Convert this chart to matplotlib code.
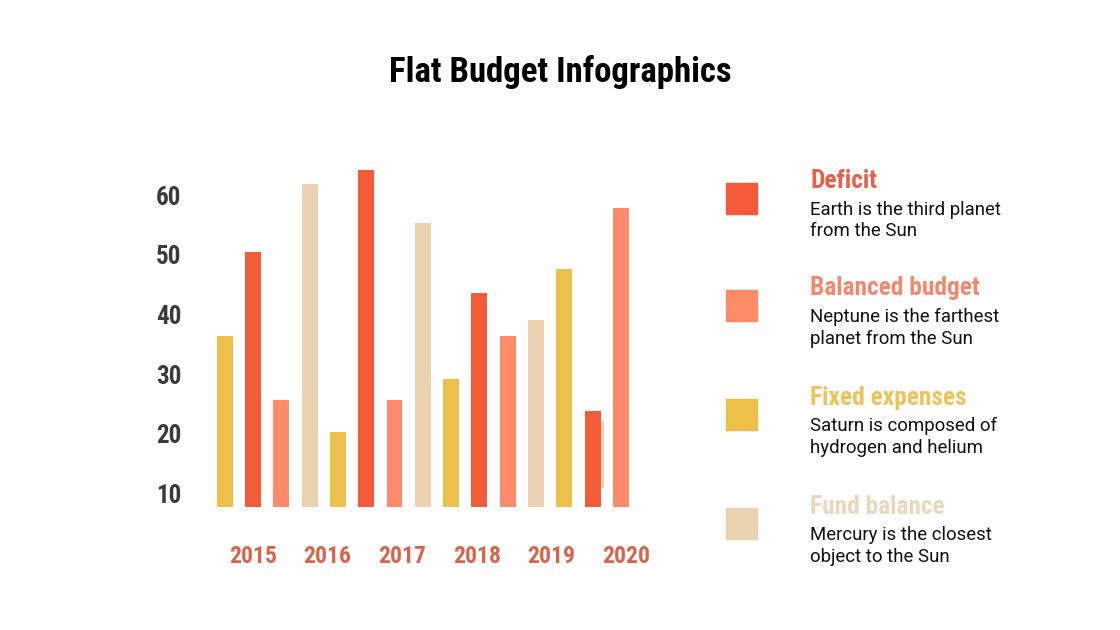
import matplotlib
matplotlib.use("Agg")
import matplotlib.pyplot as plt
from matplotlib import font_manager as fm
import numpy as np

# ---------------- data ----------------
years = ["2015", "2016", "2017", "2018", "2019", "2020"]
series_names = ["Fixed expenses", "Deficit", "Balanced budget", "Fund balance"]
fixed_expenses = [36.4, 20.3, 29.1, 47.6]
deficit = [50.5, 64.2, 43.6, 23.8]
balanced_budget = [25.6, 25.6, 36.4, 57.8]
fund_balance = [61.8, 55.4, 39.0]
fund_balance_hidden = 22.2      # small bar partly hidden behind last deficit bar
fund_balance_hidden_base = 10.9
yticks = [10, 20, 30, 40, 50, 60]

legend_titles = ["Deficit", "Balanced budget", "Fixed expenses", "Fund balance"]
legend_texts = ["Earth is the third planet\nfrom the Sun",
                "Neptune is the farthest\nplanet from the Sun",
                "Saturn is composed of\nhydrogen and helium",
                "Mercury is the closest\nobject to the Sun"]

# ---------------- style ----------------
C_DEF = "#F45B38"
C_BAL = "#FD8A69"
C_FIX = "#ECC04A"
C_FUND = "#EBD3B2"
HEAD_COL = {"Deficit": "#E9604A", "Balanced budget": "#F08A6E",
            "Fixed expenses": "#EDC45A", "Fund balance": "#EAD8BE"}
YEAR_COL = "#D5664C"

# find a bold condensed font file
cond_file = None
cands = []
for f in fm.fontManager.ttflist:
    fn = f.fname.lower()
    if ("condensed" in fn or "narrow" in fn) and ("bold" in fn) and "oblique" not in fn and "italic" not in fn:
        cands.append(f.fname)
pref = ["robotocondensed", "opensanscondensed", "notosans-condensedbold", "dejavusanscondensed-bold"]
for p in pref:
    for c in cands:
        if p in c.lower().replace("_", "").replace(" ", ""):
            cond_file = c
            break
    if cond_file:
        break
if cond_file is None and cands:
    cond_file = sorted(cands)[0]

def cprop(size):
    if cond_file:
        return fm.FontProperties(fname=cond_file, size=size)
    return fm.FontProperties(family="DejaVu Sans", weight="bold", size=size * 0.9)

names = {f.name for f in fm.fontManager.ttflist}
BODY = "Roboto" if "Roboto" in names else "DejaVu Sans"

fig = plt.figure(figsize=(11.2, 6.3), dpi=100)
fig.patch.set_facecolor("white")
ax = fig.add_axes([0.188, 0.195, 0.379, 0.552])

width = 0.565
nslots = 4
colors = [C_FIX, C_DEF, C_BAL, C_FUND]
all_series = [fixed_expenses, deficit, balanced_budget, fund_balance]
for s, (vals, col) in enumerate(zip(all_series, colors)):
    pos = [g * nslots + s for g in range(len(vals))]
    ax.bar(pos, vals, width=width, color=col, zorder=3)

# hidden fund balance bar behind last deficit bar
ax.bar(3 * nslots + 1 + 0.12, fund_balance_hidden - fund_balance_hidden_base,
       bottom=fund_balance_hidden_base, width=width, color=C_FUND, zorder=2)

ax.set_xlim(-0.5, 14.5)
ax.set_ylim(7.7, 66)
ax.set_yticks(yticks)
ax.set_yticklabels([str(t) for t in yticks], color="#3a3a3a")
for lab in ax.get_yticklabels():
    lab.set_fontproperties(cprop(18))
ax.set_xticks(np.linspace(0.99, 14.19, len(years)))
ax.set_xticklabels(years, color=YEAR_COL)
for lab in ax.get_xticklabels():
    lab.set_fontproperties(cprop(17))
ax.tick_params(axis="y", length=0, pad=21)
ax.tick_params(axis="x", length=0, pad=27)
for sp in ax.spines.values():
    sp.set_visible(False)
ax.set_facecolor("white")

fig.text(0.5, 1 - 72 / 630, "Flat Budget Infographics", ha="center", va="center",
         color="black", fontproperties=cprop(25))

sq_col = [C_DEF, C_BAL, C_FIX, C_FUND]
sq_top = [182.7, 290, 399, 508]
for i, (t, body) in enumerate(zip(legend_titles, legend_texts)):
    y0 = sq_top[i]
    fig.patches.append(plt.Rectangle((726 / 1120, 1 - (y0 + 31) / 630), 31 / 1120, 31 / 630,
                                     transform=fig.transFigure, color=sq_col[i]))
    fig.text(810 / 1120, 1 - (y0 - 1.5) / 630, t, ha="left", va="center",
             color=HEAD_COL[t], fontproperties=cprop(18.3))
    fig.text(810 / 1120, 1 - (y0 + 38) / 630, body, ha="left", va="center",
             fontsize=13.4, color="#111111", family=BODY, linespacing=1.25)

fig.savefig("out.png", dpi=100, facecolor="white")
